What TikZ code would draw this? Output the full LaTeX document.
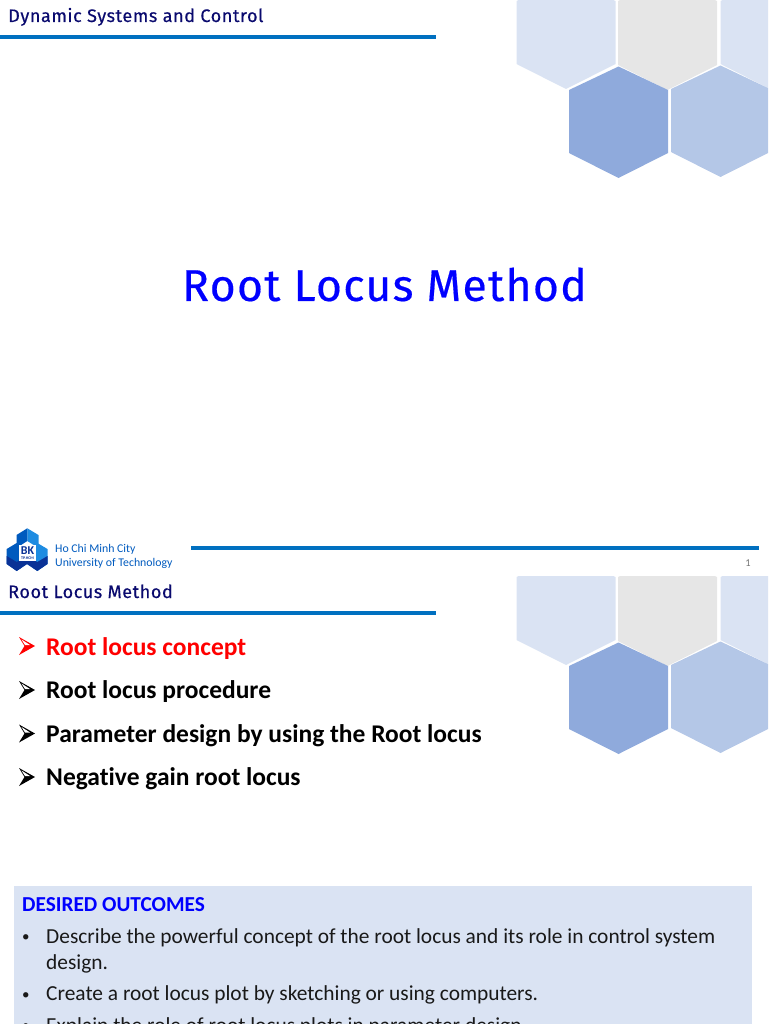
\documentclass[tikz,border=0pt]{standalone}
\usepackage{fontspec}
\setmainfont{Carlito}[Ligatures=NoCommon]
\newfontfamily\dinfont[LetterSpace=3,FakeBold=0.4]{Fira Sans}
\usepackage{tikz}
\definecolor{barblue}{RGB}{0,112,192}
\definecolor{navytext}{RGB}{10,10,110}
\definecolor{titleblue}{RGB}{0,0,255}
\definecolor{hexlight}{RGB}{218,227,243}
\definecolor{hexgrey}{RGB}{230,230,230}
\definecolor{hexdark}{RGB}{143,170,220}
\definecolor{hexmid}{RGB}{180,199,231}
\definecolor{logoblue}{RGB}{0,90,190}
\definecolor{logodark}{RGB}{10,50,150}
\definecolor{logolight}{RGB}{30,140,225}
\newcommand{\hexcell}[4]{% centre x, shoulder y (upper), shoulder y (lower), colour
  \fill[#4] (#1-49.5,#2) -- (#1,#2-23.5) -- (#1+49.5,#2) -- (#1+49.5,#3)
    -- (#1,#3+25) -- (#1-49.5,#3) -- cycle;}
\newcommand{\hexgroup}[1]{% whole cluster, #1 is the vertical offset
  \hexcell{566}{#1+1}{#1+64}{hexlight}
  \hexcell{667.5}{#1+1}{#1+65}{hexgrey}
  \hexcell{770}{#1+1}{#1+64}{hexlight}
  \hexcell{618.5}{#1+90}{#1+153}{hexdark}
  \hexcell{720.5}{#1+89}{#1+152}{hexmid}}
\newcommand{\arrowmark}[2]{% centre y, colour
  \fill[#2] (19,#1-9) -- (35,#1) -- (19,#1+9) -- (24.5,#1) -- cycle;
  \fill[white] (21.5,#1-6.5) -- (30,#1-1) -- (25,#1-1) -- cycle;}
\begin{document}
\begin{tikzpicture}
  [
    x=1pt, y=-1pt,
    headline/.style={anchor=base west, text=navytext, font=\dinfont\fontsize{18.1}{21}\selectfont, inner sep=0pt},
    topic/.style={anchor=base west, font=\bfseries\fontsize{25.5}{30}\selectfont, inner sep=0pt},
    outcome/.style={anchor=base west, text=black!90, font=\fontsize{21.4}{26}\selectfont, inner sep=0pt},
    dotmark/.style={anchor=base west, text=black!90, font=\fontsize{15}{18}\selectfont, inner sep=0pt},
    logotext/.style={anchor=base west, text=logoblue, font=\fontsize{11.8}{13}\selectfont, inner sep=0pt}
  ]
  \useasboundingbox (0,0) rectangle (768,1024);
  \begin{scope}
    \clip (0,0) rectangle (768,1024);
    % first slide
    \hexgroup{0}
    \fill[barblue] (0,35) rectangle (436,39);
    \node (head1) at (8,22) [headline] {Dynamic Systems and Control};
    \node (title) at (384.5,284.5) [text=titleblue, font=\dinfont\fontsize{44.5}{50}\selectfont] {Root Locus Method};

    % second slide
    \begin{scope}
      \clip (500,576) rectangle (768,800);
      \hexgroup{576}
    \end{scope}
    \fill[barblue] (191,546) rectangle (759,550);
    \fill[barblue] (0,611) rectangle (436,615);
    \node (page) at (748,563.5) [text=black!55, font=\fontsize{10.5}{12}\selectfont, inner sep=0pt] {1};
    \node (head2) at (8,598) [headline] {Root Locus Method};

    % logo
    \fill[logolight] (27.3,528.3) -- (38.5,535) -- (38.5,548) -- (27.3,541) -- cycle;
    \fill[logoblue] (27.3,528.3) -- (16.5,535) -- (16.5,548) -- (27.3,541) -- cycle;
    \fill[logoblue] (6.7,549) -- (16.7,543) -- (27,550) -- (27,564) -- (16.7,571) -- (6.7,564) -- cycle;
    \fill[logodark] (16.7,571) -- (6.7,564) -- (6.7,556) -- (16.7,562) -- (27,556) -- (27,564) -- cycle;
    \fill[logolight] (47.5,549) -- (37.3,543) -- (27,550) -- (27,564) -- (37.3,571) -- (47.5,564) -- cycle;
    \fill[logodark] (37.3,571) -- (47.5,564) -- (47.5,556) -- (37.3,562) -- (27,556) -- (27,564) -- cycle;
    \fill[white] (19,545) rectangle (36,561);
    \node (logoBK) at (27.5,551) [text=logodark, font=\bfseries\fontsize{12}{13}\selectfont, inner sep=0pt] {BK};
    \node (logoTP) at (27.5,558) [text=logodark, font=\bfseries\fontsize{4}{5}\selectfont, inner sep=0pt] {TP.HCM};
    \node (uni1) at (55,552) [logotext] {Ho Chi Minh City};
    \node (uni2) at (55,566) [logotext] {University of Technology};

    % topics
    \arrowmark{646}{red}
    \arrowmark{690}{black}
    \arrowmark{733.5}{black}
    \arrowmark{777}{black}
    \node (t1) at (46,655) [topic, text=red] {Root locus concept};
    \node (t2) at (46,698.5) [topic] {Root locus procedure};
    \node (t3) at (46,742) [topic] {Parameter design by using the Root locus};
    \node (t4) at (46,785.5) [topic] {Negative gain root locus};

    % outcomes box
    \fill[hexlight] (14,886) rectangle (752,1024);
    \node (desired) at (22,911) [anchor=base west, inner sep=0pt, text=titleblue, font=\bfseries\fontsize{21.3}{25}\selectfont] {DESIRED OUTCOMES};
    \node (b1) at (22,941) [dotmark] {•};
    \node (o1) at (46,943) [outcome] {Describe the powerful concept of the root locus and its role in control system};
    \node (o1b) at (46,969) [outcome] {design.};
    \node (b2) at (22,999) [dotmark] {•};
    \node (o2) at (46,1000.5) [outcome] {Create a root locus plot by sketching or using computers.};
    \node (b3) at (22,1030) [dotmark] {•};
    \node (o3) at (46,1032) [outcome] {Explain the role of root locus plots in parameter design.};
  \end{scope}
\end{tikzpicture}
\end{document}
